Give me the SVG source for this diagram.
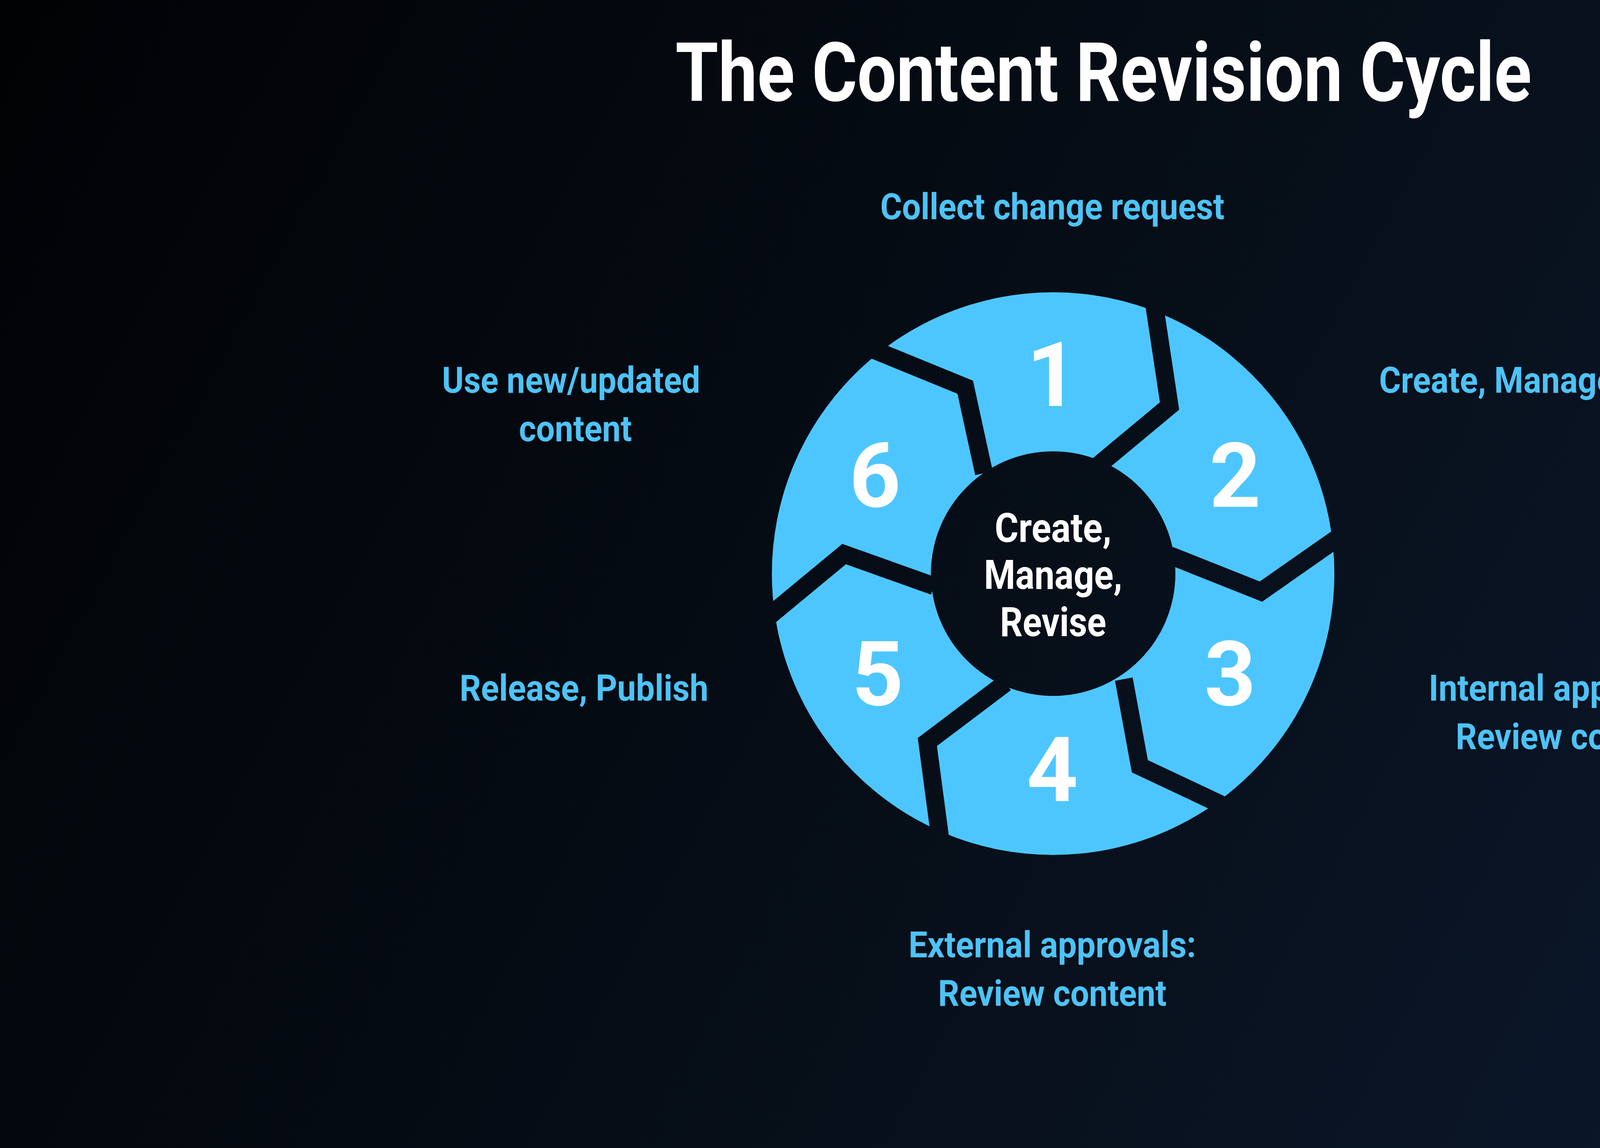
<svg xmlns="http://www.w3.org/2000/svg" width="5396" height="2938" viewBox="0 0 5396 2938">
<defs>
<linearGradient id="bg" gradientUnits="userSpaceOnUse" x1="0" y1="0" x2="5396" y2="2938">
<stop offset="0" stop-color="#010204"/>
<stop offset="0.6" stop-color="#08111d"/>
<stop offset="1" stop-color="#0c1a33"/>
</linearGradient>
<style>
.lbl{font-family:Roboto,"Liberation Sans",sans-serif;font-weight:700;font-size:93px;fill:#4dc3f7;text-anchor:middle}
.num{font-family:Roboto,"Liberation Sans",sans-serif;font-weight:700;font-size:230px;fill:#ffffff;text-anchor:middle}
.ctr{font-family:Roboto,"Liberation Sans",sans-serif;font-weight:700;font-size:103px;fill:#ffffff;text-anchor:middle}
.sep{fill:none;stroke:url(#bg);stroke-width:46;stroke-linejoin:miter}
</style>
</defs>
<rect width="5396" height="2938" fill="url(#bg)"/>
<text x="2825" y="258" font-family="Roboto,'Liberation Sans',sans-serif" font-weight="700" font-size="210" fill="#ffffff" text-anchor="middle" textLength="2192" lengthAdjust="spacingAndGlyphs">The Content Revision Cycle</text>
<g id="wheel">
<circle cx="2696" cy="1468" r="720" fill="#4dc6ff"/>
<circle cx="2696" cy="1468" r="313" fill="url(#bg)"/>
</g>
<g id="connectors">
<polyline class="sep" points="2952,760 2994,1039 2804,1197"/>
<polyline class="sep" points="3454,1356 3228,1514 2994,1421"/>
<polyline class="sep" points="3160,2075 2918,1961 2877,1738"/>
<polyline class="sep" points="2412,2185 2374,1899 2574,1748"/>
<polyline class="sep" points="1941,1600 2161,1418 2391,1500"/>
<polyline class="sep" points="2214,886 2471,991 2519,1211"/>
</g>
<g id="node1"><text class="num" x="2694" y="1039">1</text><text class="lbl" x="2694" y="561" textLength="881" lengthAdjust="spacingAndGlyphs">Collect change request</text></g>
<g id="node2"><text class="num" x="3162" y="1297">2</text><text class="lbl" x="3981" y="1005" textLength="901" lengthAdjust="spacingAndGlyphs">Create, Manage, Revise</text></g>
<g id="node3"><text class="num" x="3149" y="1805">3</text><text class="lbl" x="4017" y="1793" textLength="719" lengthAdjust="spacingAndGlyphs">Internal approvals:</text><text class="lbl" x="4019" y="1917" textLength="585" lengthAdjust="spacingAndGlyphs">Review content</text></g>
<g id="node4"><text class="num" x="2694" y="2050">4</text><text class="lbl" x="2694" y="2450" textLength="736" lengthAdjust="spacingAndGlyphs">External approvals:</text><text class="lbl" x="2694" y="2574" textLength="585" lengthAdjust="spacingAndGlyphs">Review content</text></g>
<g id="node5"><text class="num" x="2247" y="1805">5</text><text class="lbl" x="1495" y="1793" textLength="637" lengthAdjust="spacingAndGlyphs">Release, Publish</text></g>
<g id="node6"><text class="num" x="2240" y="1297">6</text><text class="lbl" x="1462" y="1005" textLength="661" lengthAdjust="spacingAndGlyphs">Use new/updated</text><text class="lbl" x="1473" y="1129" textLength="289" lengthAdjust="spacingAndGlyphs">content</text></g>
<g id="center"><text class="ctr" x="2696" y="1387" textLength="299" lengthAdjust="spacingAndGlyphs">Create,</text><text class="ctr" x="2696" y="1507" textLength="354" lengthAdjust="spacingAndGlyphs">Manage,</text><text class="ctr" x="2696" y="1628" textLength="272" lengthAdjust="spacingAndGlyphs">Revise</text></g>
</svg>
